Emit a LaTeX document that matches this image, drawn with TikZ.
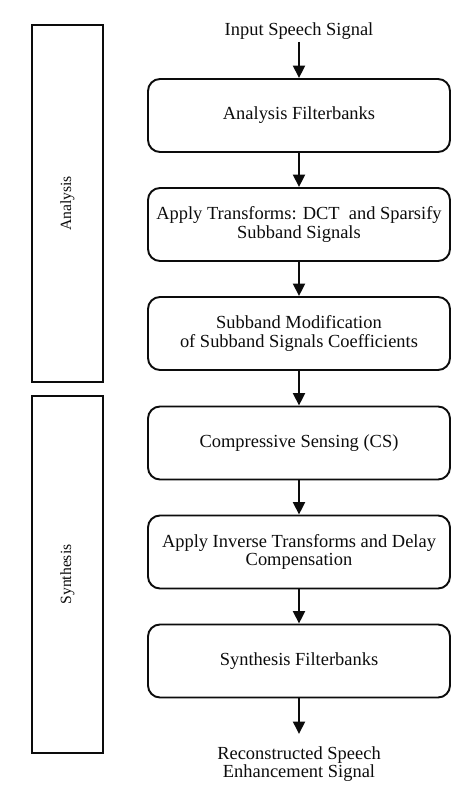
\documentclass[tikz,border=0pt]{standalone}
\usepackage{fontspec}
\setmainfont{Liberation Serif}
\usetikzlibrary{arrows.meta}
\definecolor{cInk}{RGB}{12,12,12}

\begin{document}
\begin{tikzpicture}[
  x=0.2mm, y=-0.2mm, font=\fontsize{10.5}{10.4}\selectfont, color=cInk,
  stage/.style={rounded corners=2.4mm, draw, line width=1.1pt, align=center,
                minimum width=60.4mm, minimum height=14.6mm, inner sep=0pt, text=cInk},
  phase/.style={draw, line width=1.1pt, rotate=90, inner sep=0pt,
                minimum width=71.4mm, minimum height=14.2mm,
                font=\fontsize{8.9}{10}\selectfont},
  io/.style  ={align=center, inner sep=1pt, text=cInk},
  flow/.style={-{Triangle[length=2.5mm,width=2.4mm]}, line width=1.1pt},
]
\useasboundingbox (0,0) rectangle (474,804);

% columns: phases 67.5 (w 71) / stages 299 (w 302)
% rows:    115.5 / 224.5 / 333.5 / 443 / 552 / 661
\node[phase] (ana) at (67.5,203.5) {Analysis};
\node[phase] (syn) at (67.5,574.5) {Synthesis};

\node[io,anchor=south] (inp) at (299,42) {Input Speech Signal};
\node[stage] (afb) at (299,115.5) {Analysis Filterbanks};
\node[stage] (dct) at (299,224.5) {Apply Transforms: DCT\ \ and Sparsify\\Subband Signals};
\node[stage] (mod) at (299,333.5) {Subband Modification\\of Subband Signals Coefficients};
\node[stage] (cs)  at (299,443)   {Compressive Sensing (CS)};
\node[stage] (inv) at (299,552)   {Apply Inverse Transforms and Delay\\Compensation};
\node[stage] (sfb) at (299,661)   {Synthesis Filterbanks};
\node[io,anchor=north,inner ysep=6.8pt] (out) at (299,734)
     {Reconstructed Speech\\Enhancement Signal};

% ----- analysis half ----------------------------------------------------
\draw[flow] (inp) -- (afb);
\draw[flow] (afb) -- (dct);
\draw[flow] (dct) -- (mod);
\draw[flow] (mod) -- (cs);

% ----- synthesis half ---------------------------------------------------
\draw[flow] (cs)  -- (inv);
\draw[flow] (inv) -- (sfb);
\draw[flow] (sfb) -- (out);

\end{tikzpicture}
\end{document}
